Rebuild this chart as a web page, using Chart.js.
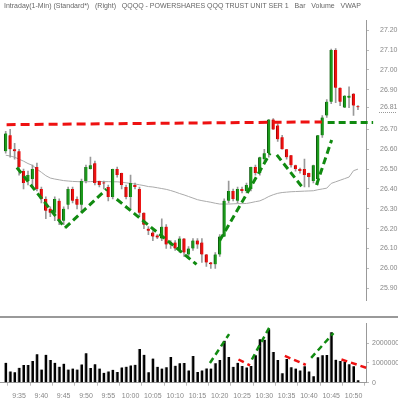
<!DOCTYPE html>
<html>
<head>
<meta charset="utf-8">
<script src="https://cdn.jsdelivr.net/npm/chart.js@4.4.0/dist/chart.umd.min.js"></script>
<style>
body { margin: 0; background: #fff; }
#wrap { position: relative; width: 398px; height: 400px; overflow: hidden; background: #fff; }
#title { position: absolute; left: 4px; top: 2px; font: 7px "Liberation Sans", Arial, sans-serif; color: #666; white-space: pre; }
#priceChart { position: absolute; left: 0; top: 0; }
#volChart { position: absolute; left: 0; top: 316px; }
</style>
</head>
<body>
<div id="wrap">
<canvas id="priceChart" width="398" height="316"></canvas>
<canvas id="volChart" width="398" height="84"></canvas>
<div id="title">Intraday(1-Min) (Standard*)   (Right)   QQQQ - POWERSHARES QQQ TRUST UNIT SER 1   Bar   Volume   VWAP</div>
</div>
<script>
// one bar per minute, 9:32 .. 10:51
var times = ['9:32','9:33','9:34','9:35','9:36','9:37','9:38','9:39','9:40','9:41',
  '9:42','9:43','9:44','9:45','9:46','9:47','9:48','9:49','9:50','9:51',
  '9:52','9:53','9:54','9:55','9:56','9:57','9:58','9:59','10:00','10:01',
  '10:02','10:03','10:04','10:05','10:06','10:07','10:08','10:09','10:10','10:11',
  '10:12','10:13','10:14','10:15','10:16','10:17','10:18','10:19','10:20','10:21',
  '10:22','10:23','10:24','10:25','10:26','10:27','10:28','10:29','10:30','10:31',
  '10:32','10:33','10:34','10:35','10:36','10:37','10:38','10:39','10:40','10:41',
  '10:42','10:43','10:44','10:45','10:46','10:47','10:48','10:49','10:50','10:51'];

var opens = [26.59,26.67,26.60,26.59,26.49,26.44,26.45,26.51,26.40,26.35,
  26.30,26.28,26.34,26.24,26.32,26.40,26.35,26.32,26.44,26.50,
  26.53,26.44,26.432,26.41,26.36,26.50,26.48,26.41,26.36,26.42,
  26.40,26.28,26.20,26.18,26.165,26.15,26.21,26.12,26.13,26.09,
  26.15,26.07,26.10,26.14,26.13,26.07,26.03,26.02,26.07,26.16,
  26.34,26.39,26.34,26.40,26.39,26.40,26.51,26.48,26.55,26.58,
  26.75,26.72,26.66,26.60,26.57,26.52,26.50,26.50,26.48,26.44,
  26.45,26.67,26.77,26.84,27.10,26.91,26.81,26.86,26.88,26.815];
var highs = [26.69,26.70,26.63,26.60,26.50,26.49,26.52,26.53,26.41,26.36,
  26.31,26.36,26.35,26.31,26.41,26.41,26.36,26.45,26.52,26.56,
  26.54,26.44,26.44,26.42,26.50,26.51,26.48,26.42,26.47,26.43,
  26.41,26.28,26.21,26.19,26.17,26.25,26.22,26.14,26.14,26.16,
  26.15,26.11,26.15,26.15,26.15,26.07,26.03,26.08,26.17,26.35,
  26.44,26.40,26.41,26.41,26.43,26.51,26.52,26.56,26.60,26.75,
  26.755,26.73,26.67,26.60,26.57,26.52,26.505,26.55,26.48,26.52,
  26.67,26.77,26.85,27.105,27.107,26.91,26.87,26.915,26.88,26.82];
var lows = [26.58,26.56,26.55,26.47,26.40,26.42,26.41,26.39,26.33,26.25,
  26.26,26.24,26.22,26.22,26.30,26.33,26.30,26.28,26.43,26.50,
  26.42,26.41,26.40,26.34,26.35,26.46,26.40,26.35,26.30,26.40,
  26.26,26.20,26.17,26.14,26.15,26.14,26.10,26.10,26.09,26.08,
  26.06,26.05,26.09,26.10,26.03,26.01,26.00,26.00,26.06,26.16,
  26.33,26.34,26.33,26.38,26.38,26.39,26.47,26.47,26.54,26.56,
  26.70,26.64,26.60,26.55,26.51,26.49,26.48,26.41,26.41,26.43,
  26.42,26.66,26.76,26.83,26.835,26.82,26.81,26.81,26.77,26.80];
var closes = [26.68,26.60,26.59,26.51,26.43,26.47,26.50,26.40,26.35,26.29,
  26.28,26.35,26.24,26.30,26.40,26.34,26.32,26.44,26.51,26.52,
  26.43,26.42,26.428,26.36,26.50,26.47,26.42,26.36,26.43,26.41,
  26.28,26.22,26.19,26.16,26.156,26.21,26.12,26.13,26.10,26.15,
  26.08,26.10,26.14,26.12,26.07,26.03,26.02,26.07,26.16,26.34,
  26.39,26.35,26.40,26.39,26.42,26.51,26.48,26.56,26.58,26.75,
  26.70,26.65,26.60,26.56,26.52,26.50,26.49,26.47,26.46,26.52,
  26.67,26.76,26.84,27.10,26.91,26.84,26.87,26.87,26.82,26.812];
var volumes = [1000000,570000,530000,750000,890000,890000,1100000,1430000,660000,1410000,
  1140000,1000000,810000,960000,660000,710000,660000,920000,1490000,740000,
  930000,710000,500000,570000,650000,540000,770000,810000,870000,900000,
  1700000,1410000,530000,1220000,800000,710000,780000,1290000,860000,980000,
  990000,620000,1340000,540000,620000,720000,710000,980000,1140000,2120000,
  1290000,800000,1000000,840000,770000,840000,1380000,2190000,2160000,2700000,
  1550000,1140000,480000,1200000,780000,710000,620000,830000,570000,330000,
  1280000,1380000,1400000,2550000,1160000,1100000,1070000,930000,830000,120000];
var vwap = [26.570,26.566,26.560,26.550,26.540,26.528,26.519,26.500,26.484,26.467,
  26.455,26.450,26.446,26.442,26.440,26.438,26.437,26.436,26.436,26.437,
  26.438,26.438,26.437,26.437,26.436,26.436,26.434,26.431,26.428,26.425,
  26.421,26.417,26.412,26.410,26.406,26.402,26.398,26.392,26.385,26.377,
  26.370,26.362,26.354,26.346,26.341,26.337,26.333,26.328,26.324,26.324,
  26.324,26.325,26.326,26.326,26.327,26.331,26.336,26.340,26.350,26.362,
  26.371,26.378,26.382,26.384,26.386,26.387,26.388,26.389,26.390,26.391,
  26.396,26.400,26.404,26.428,26.436,26.444,26.452,26.460,26.492,26.500];

// hand drawn trend lines: [bar index, value] pairs
var greenPriceLines = [
  [[2.5, 26.508], [13.3, 26.204]],
  [[13.3, 26.204], [22.6, 26.399]],
  [[24.9, 26.348], [42.8, 26.020]],
  [[48.0, 26.140], [59.3, 26.580]],
  [[60.8, 26.572], [66.4, 26.412]],
  [[69.7, 26.420], [73.1, 26.647]],
  [[72.2, 26.735], [82.4, 26.735]]
];
var redPriceLines = [
  [[0.2, 26.724], [70.9, 26.738]]
];
var greenVolumeLines = [
  [[45.8, 990000], [50.1, 2450000]],
  [[55.2, 1170000], [59.4, 2900000]],
  [[68.5, 1250000], [73.5, 2500000]]
];
var redVolumeLines = [
  [[52.2, 1170000], [54.8, 870000]],
  [[62.6, 1350000], [67.3, 900000]],
  [[75.3, 1170000], [81.3, 720000]]
];

var xTickLabels = ['9:35','9:40','9:45','9:50','9:55','10:00','10:05','10:10',
  '10:15','10:20','10:25','10:30','10:35','10:40','10:45','10:50'];
var priceTicks = [25.90,26.00,26.10,26.20,26.30,26.40,26.50,26.60,26.70,26.90,27.00,27.10,27.20];
var volumeTicks = [0, 1000000, 2000000];

var lastPrice = closes[closes.length - 1];
var FONT = { family: 'Liberation Sans, Arial, sans-serif', size: 7 };
var xMin = -1.28, xMax = 80.8;

function trendSets(lines, color, dash, width) {
  return lines.map(function (l) {
    return {
      type: 'line',
      data: l.map(function (p) { return { x: p[0], y: p[1] }; }),
      borderColor: color,
      borderWidth: width,
      borderDash: dash,
      pointRadius: 0,
      clip: false,
      order: 0
    };
  });
}

var lastPriceBox = {
  id: 'lastPriceBox',
  afterDraw: function (chart) {
    var ctx = chart.ctx;
    var y = chart.scales.y.getPixelForValue(lastPrice);
    ctx.save();
    ctx.strokeStyle = '#999';
    ctx.lineWidth = 1;
    ctx.setLineDash([1, 1]);
    ctx.beginPath();
    ctx.moveTo(379, Math.round(y) + 5.5);
    ctx.lineTo(397, Math.round(y) + 5.5);
    ctx.stroke();
    ctx.restore();
  }
};

var priceChart = new Chart(document.getElementById('priceChart').getContext('2d'), {
  type: 'bar',
  data: {
    datasets: [
      {
        label: 'Body',
        data: opens.map(function (o, i) { return { x: i, y: [o, closes[i]] }; }),
        backgroundColor: function (c) { return closes[c.dataIndex] >= opens[c.dataIndex] ? '#1c9a1c' : '#ee1111'; },
        borderColor: function (c) { return closes[c.dataIndex] >= opens[c.dataIndex] ? '#0b5a0b' : '#a00000'; },
        borderWidth: { left: 1, right: 0, top: 0, bottom: 0 },
        borderSkipped: false,
        barThickness: 3,
        minBarLength: 1,
        grouped: false,
        order: 1
      },
      {
        label: 'Wick',
        data: lows.map(function (l, i) { return { x: i, y: [l, highs[i]] }; }),
        backgroundColor: '#999',
        barThickness: 1,
        grouped: false,
        order: 2
      },
      {
        type: 'line',
        label: 'VWAP',
        data: vwap.map(function (v, i) { return { x: i, y: v }; }),
        borderColor: '#aaa',
        borderWidth: 1,
        pointRadius: 0,
        order: 3
      }
    ].concat(trendSets(redPriceLines, '#ee1111', [9, 5], 3), trendSets(greenPriceLines, '#108a10', [7, 4], 3))
  },
  options: {
    responsive: false,
    animation: false,
    devicePixelRatio: 1,
    layout: { padding: { top: 20, bottom: 1, left: 0, right: 0 } },
    plugins: { legend: { display: false }, tooltip: { enabled: false } },
    scales: {
      x: { type: 'linear', min: xMin, max: xMax, offset: false, display: false },
      y: {
        position: 'right',
        min: 27.20 - (315 - 30.7) / 208.5,
        max: 27.20 + (30.7 - 20) / 208.5,
        afterFit: function (s) { s.width = 32; },
        afterBuildTicks: function (s) {
          s.ticks = priceTicks.concat([lastPrice]).map(function (v) { return { value: v }; });
        },
        border: { color: '#999' },
        grid: { drawOnChartArea: false, tickLength: 3, color: '#bbb' },
        ticks: {
          autoSkip: false,
          padding: 11,
          color: '#888',
          font: FONT,
          callback: function (v) { return (Math.floor(v * 100 + 1e-6) / 100).toFixed(2); }
        }
      }
    }
  },
  plugins: [lastPriceBox]
});

var separator = {
  id: 'separator',
  afterDraw: function (chart) {
    var ctx = chart.ctx;
    ctx.save();
    ctx.fillStyle = '#999';
    ctx.fillRect(0, 0, 398, 2);
    ctx.restore();
  }
};

var volChart = new Chart(document.getElementById('volChart').getContext('2d'), {
  type: 'bar',
  data: {
    datasets: [
      {
        label: 'Volume',
        data: volumes.map(function (v, i) { return { x: i, y: v }; }),
        backgroundColor: '#000',
        borderColor: '#aaa',
        borderWidth: { left: 1, right: 0, top: 0, bottom: 0 },
        borderSkipped: false,
        barThickness: 3,
        order: 1
      }
    ].concat(trendSets(greenVolumeLines, '#108a10', [6, 4], 2.5), trendSets(redVolumeLines, '#ee1111', [6, 4], 2.5))
  },
  options: {
    responsive: false,
    animation: false,
    devicePixelRatio: 1,
    layout: { padding: 0 },
    plugins: { legend: { display: false }, tooltip: { enabled: false } },
    scales: {
      x: {
        type: 'linear', min: xMin, max: xMax, offset: false,
        afterFit: function (s) { s.height = 17.3; },
        afterBuildTicks: function (s) {
          s.ticks = xTickLabels.map(function (t) { return { value: times.indexOf(t) }; });
        },
        border: { color: '#999' },
        grid: { drawOnChartArea: false, tickLength: 3, color: '#bbb' },
        ticks: {
          autoSkip: false, maxRotation: 0, padding: 6,
          color: '#888', font: FONT,
          callback: function (v) { return times[v]; }
        }
      },
      y: {
        position: 'right', min: 0, max: 3000000,
        afterFit: function (s) { s.width = 32; },
        afterBuildTicks: function (s) {
          s.ticks = volumeTicks.map(function (v) { return { value: v }; });
        },
        border: { color: '#999' },
        grid: { drawOnChartArea: false, tickLength: 3, color: '#bbb' },
        ticks: {
          autoSkip: false, padding: 3, color: '#888', font: FONT,
          callback: function (v) { return String(v); }
        }
      }
    }
  },
  plugins: [separator]
});
</script>
</body>
</html>
